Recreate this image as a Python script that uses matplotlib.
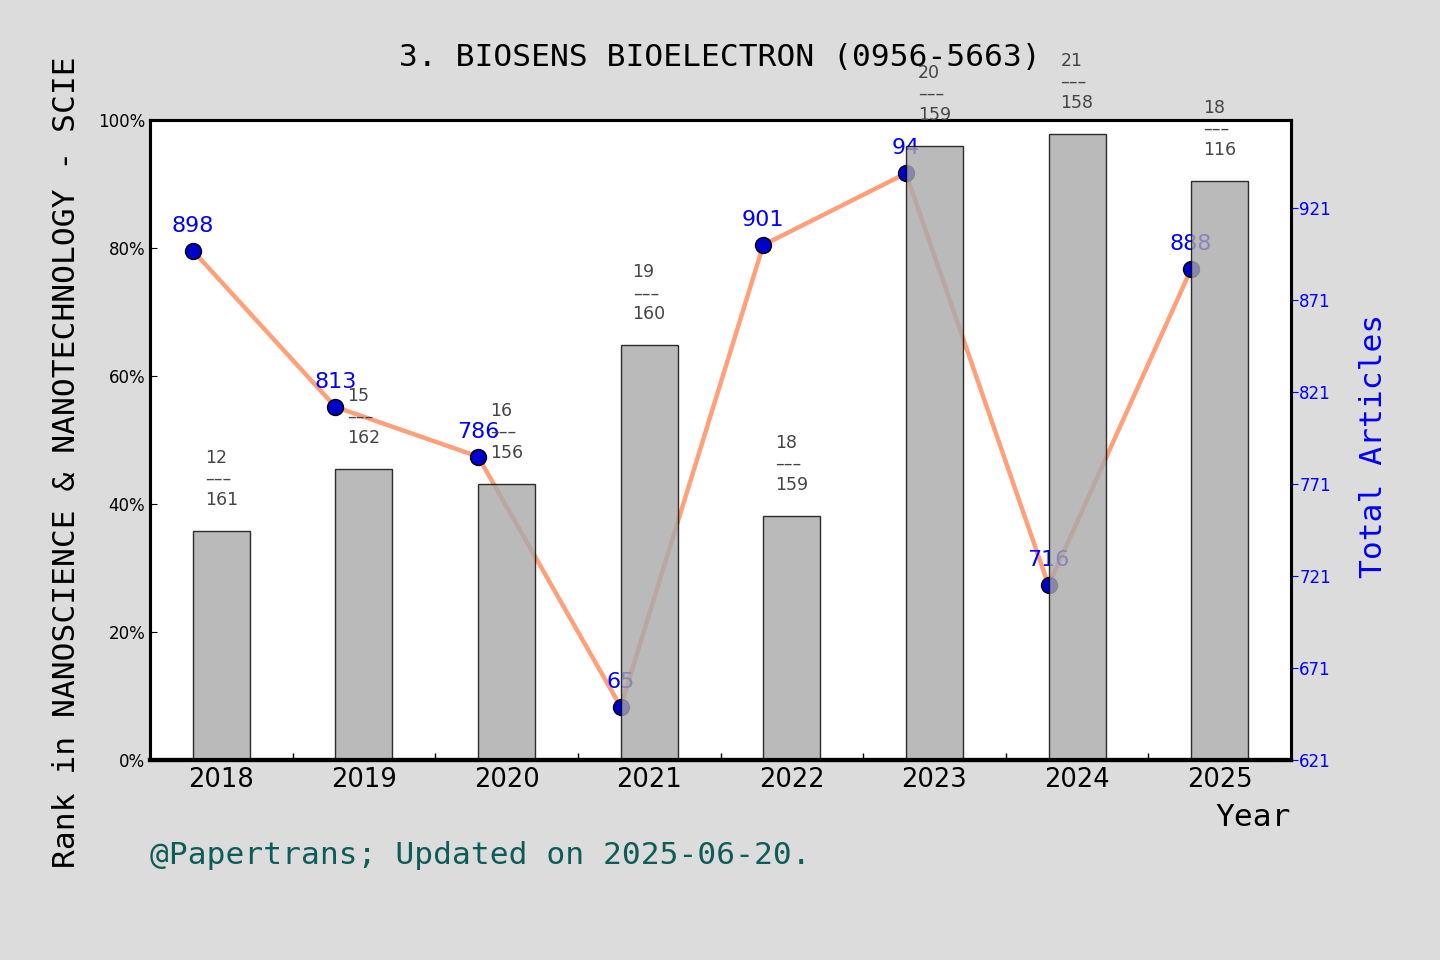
import numpy as np
import matplotlib
matplotlib.use("Agg")
import matplotlib.pyplot as plt
from matplotlib.ticker import PercentFormatter, MultipleLocator

# data
years = [2018, 2019, 2020, 2021, 2022, 2023, 2024, 2025]
articles = [898, 813, 786, 650, 901, 940, 716, 888]
rank = [12, 15, 16, 19, 18, 20, 21, 18]
total = [161, 162, 156, 160, 159, 159, 158, 116]
bar_pct = [35.8, 45.5, 43.1, 64.8, 38.1, 95.9, 97.8, 90.5]

mono = "DejaVu Sans Mono"
bg = "#dcdcdc"

fig = plt.figure(figsize=(14.4, 9.6), dpi=100, facecolor=bg)
ax = fig.add_axes([150 / 1440, 1 - 760 / 960, 1141 / 1440, 640 / 960])
ax2 = ax.twinx()

# line (total articles) sits below the bars
ax.set_zorder(2)
ax2.set_zorder(1)
ax.patch.set_visible(False)
ax2.patch.set_visible(True)
ax2.patch.set_facecolor("white")

x = np.array(years)
ax2.plot(x - 0.2, articles, color="#ffa07a", lw=3.2, zorder=2)
ax2.plot(x - 0.2, articles, "o", color="#0000cd", ms=11.5, mec="black", mew=1, zorder=3)
for xi, v in zip(x - 0.2, articles):
    ax2.annotate(f"{float(v)}".rstrip(".0"), (xi, v), xytext=(0, 18),
                 textcoords="offset points", ha="center", va="center",
                 color="#0000ff", fontsize=16)

lo = min(articles) - 0.1 * (max(articles) - min(articles))
hi = max(articles) + 0.1 * (max(articles) - min(articles))
ax2.set_ylim(lo, hi)
ax2.set_yticks(np.arange(lo, hi, 50))
ax2.set_yticklabels([f"{t:.0f}" for t in np.arange(lo, hi, 50)])
ax2.tick_params(axis="y", colors="#0000ff", labelcolor="#0000ff", direction="out",
                length=5, labelsize=12, pad=1)

# bars (rank share)
ax.bar(x, np.array(bar_pct) / 100, width=0.4, color="darkgray", alpha=0.8,
       edgecolor="black", linewidth=1, zorder=2)
for xi, h, r, t in zip(x, bar_pct, rank, total):
    ax.annotate(f"{r}\n\u2013\u2013\u2013\n{t}", (xi, h / 100), xytext=(0, 16),
                textcoords="offset points", ha="center", va="bottom",
                multialignment="left", color="#444444", fontsize=12.5,
                linespacing=1.2)

ax.set_xlim(2017.5, 2025.5)
ax.set_ylim(0, 1)
ax.yaxis.set_major_locator(MultipleLocator(0.2))
ax.yaxis.set_major_formatter(PercentFormatter(1, decimals=0))
ax.set_xticks(years)
ax.set_xticks(np.arange(2018.5, 2025, 1), minor=True)
ax.tick_params(axis="x", which="major", length=0, labelsize=18.5, pad=5)
ax.tick_params(axis="x", which="minor", direction="in", length=5, width=1)
ax.tick_params(axis="y", direction="in", length=5, labelsize=12)

for a in (ax, ax2):
    for s in a.spines.values():
        s.set_linewidth(2.2)
    a.spines["bottom"].set_linewidth(3)

fig.text(0.5, 1 - 57 / 960, "3. BIOSENS BIOELECTRON (0956-5663)", ha="center",
         va="center", fontsize=22.5, family=mono)
fig.text(67 / 1440, 1 - 462 / 960, "Rank in NANOSCIENCE & NANOTECHNOLOGY - SCIE",
         rotation=90, ha="center", va="center", fontsize=22.5, family=mono)
fig.text(1373 / 1440, 1 - 446 / 960, "Total Articles", rotation=90, ha="center",
         va="center", fontsize=22.5, family=mono, color="#0000ff")
fig.text(1291 / 1440, 1 - 817 / 960, "Year", ha="right", va="center",
         fontsize=22.5, family=mono)
fig.text(150 / 1440, 1 - 855 / 960, "@Papertrans; Updated on 2025-06-20.", ha="left",
         va="center", fontsize=22.5, family=mono, color="#0e5c57")

fig.savefig("out.png", dpi=100, facecolor=bg)
